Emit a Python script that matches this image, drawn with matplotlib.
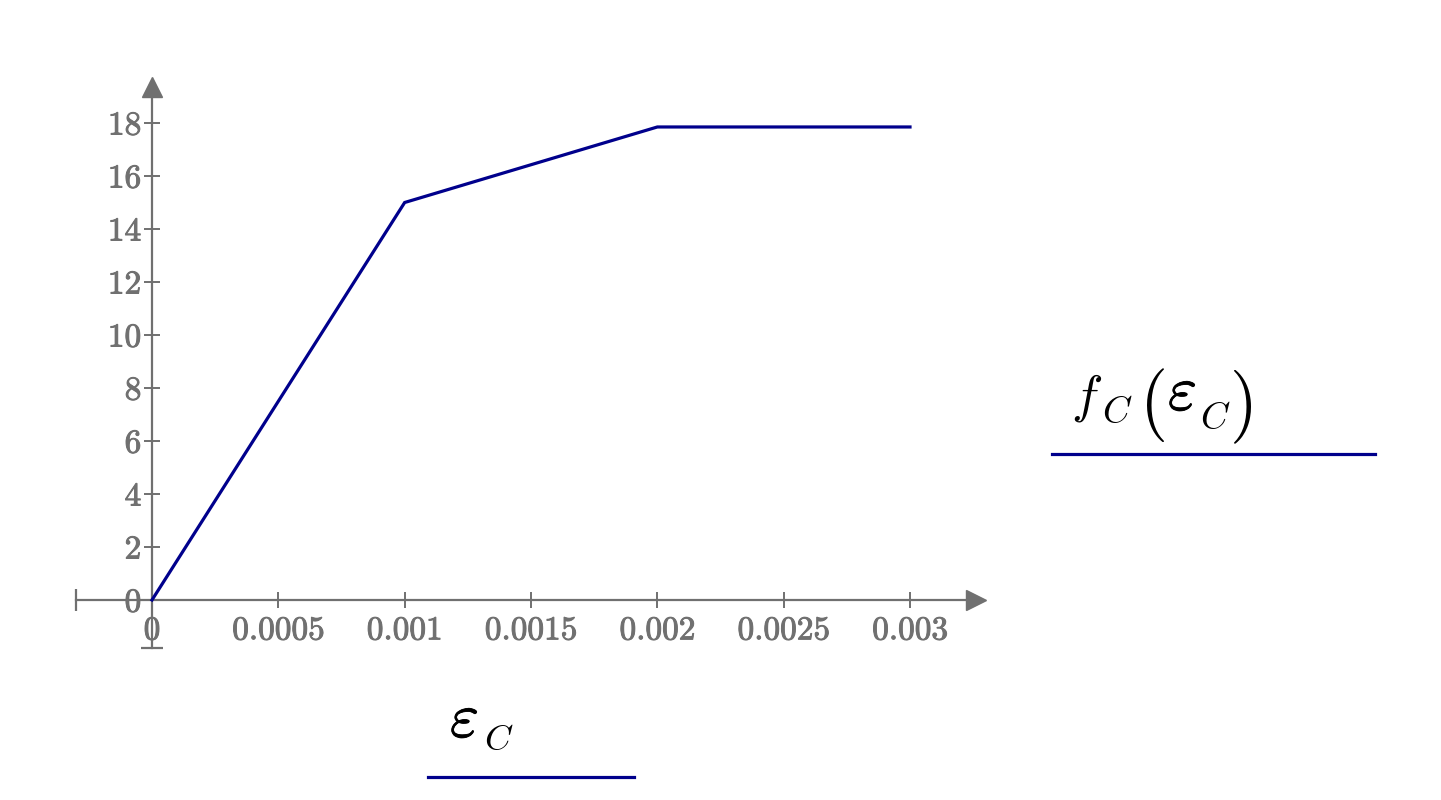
import matplotlib
matplotlib.use("Agg")
import matplotlib.pyplot as plt
import matplotlib.patheffects as pe
from matplotlib.lines import Line2D
from matplotlib.ticker import FixedLocator, FixedFormatter

# ---- data ----
eps_c = [0.0, 0.001, 0.002, 0.003]
f_c = [0.0, 15.0, 17.85, 17.85]
x_ticks = [0.0, 0.0005, 0.001, 0.0015, 0.002, 0.0025, 0.003]
x_tick_labels = ["0", "0.0005", "0.001", "0.0015", "0.002", "0.0025", "0.003"]
y_ticks = [0, 2, 4, 6, 8, 10, 12, 14, 16, 18]
y_tick_labels = [str(v) for v in y_ticks]
x_axis_range = (-0.0003, 0.0033)
y_axis_range = (-1.8, 19.7)

# ---- style ----
W, H = 1441, 800
GRAY = "#707070"
BLUE = "#00008C"
plt.rcParams["mathtext.fontset"] = "cm"
plt.rcParams["font.family"] = ["cmr10", "DejaVu Serif"]

fig = plt.figure(figsize=(W / 100, H / 100), dpi=100)
ax = fig.add_axes([0, 0, 1, 1])
ax.patch.set_alpha(0)

# pixel-based layout mapping
x0px, x3px = 152, 910
y0px, y18px = 600, 123
sx = 0.003 / (x3px - x0px)
sy = 18.0 / (y0px - y18px)
ax.set_xlim(-x0px * sx, (W - x0px) * sx)
ax.set_ylim(-(H - y0px) * sy, y0px * sy)

for s in ["top", "right"]:
    ax.spines[s].set_visible(False)
ax.spines["left"].set_position(("data", 0))
ax.spines["bottom"].set_position(("data", 0))
ax.spines["left"].set_bounds(y_axis_range[0], y_axis_range[1] - 0.4)
ax.spines["bottom"].set_bounds(x_axis_range[0], x_axis_range[1] - 0.00002)
for s in ["left", "bottom"]:
    ax.spines[s].set_color(GRAY)
    ax.spines[s].set_linewidth(1.6)

ax.xaxis.set_major_locator(FixedLocator(x_ticks))
ax.xaxis.set_major_formatter(FixedFormatter(x_tick_labels))
ax.yaxis.set_major_locator(FixedLocator(y_ticks))
ax.yaxis.set_major_formatter(FixedFormatter(y_tick_labels))
ax.tick_params(axis="both", direction="inout", length=11.5, width=1.4,
               color=GRAY, labelcolor=GRAY, labelsize=24)
ax.tick_params(axis="x", pad=6)
ax.tick_params(axis="y", pad=2)
stroke = [pe.withStroke(linewidth=0.7, foreground=GRAY)]
for lab in ax.get_xticklabels() + ax.get_yticklabels():
    lab.set_path_effects(stroke)

# arrow heads and end bars
ax.plot([x_axis_range[1] - 0.00004], [0], marker=">", ms=14, color=GRAY,
        mec=GRAY, clip_on=False)
ax.plot([0], [y_axis_range[1] - 0.35], marker="^", ms=14, color=GRAY,
        mec=GRAY, clip_on=False)
ax.plot([x_axis_range[0]], [0], marker="|", ms=16, mew=1.6, color=GRAY)
ax.plot([0], [y_axis_range[0]], marker="_", ms=16, mew=1.6, color=GRAY)

# data line
ax.plot(eps_c, f_c, color=BLUE, lw=2.3, solid_joinstyle="miter", zorder=5)

# labels (Mathcad-style)
bold = [pe.withStroke(linewidth=0.6, foreground="black")]


def label(x, y, s, size, thick=False):
    t = fig.text(x / W, 1 - y / H, s, fontsize=size, ha="left",
                 va="baseline", color="black")
    if thick:
        t.set_path_effects(bold)


# x-axis label: eps_C
label(450, 737, r"$\varepsilon$", 45, True)
label(484, 750, r"$C$", 26)
fig.add_artist(Line2D([428 / W, 634 / W], [1 - 777 / H, 1 - 777 / H],
                      color=BLUE, lw=2.3))

# y-axis label: f_C(eps_C)
label(1071, 411, r"$f$", 38)
label(1102, 423, r"$C$", 27)
label(1140, 424, "(", 52)
label(1168, 410, r"$\varepsilon$", 45, True)
label(1200, 429, r"$C$", 27)
label(1230, 424, ")", 52)
fig.add_artist(Line2D([1052 / W, 1375 / W], [1 - 454 / H, 1 - 454 / H],
                      color=BLUE, lw=2.3))

fig.savefig("out.png", dpi=100)
